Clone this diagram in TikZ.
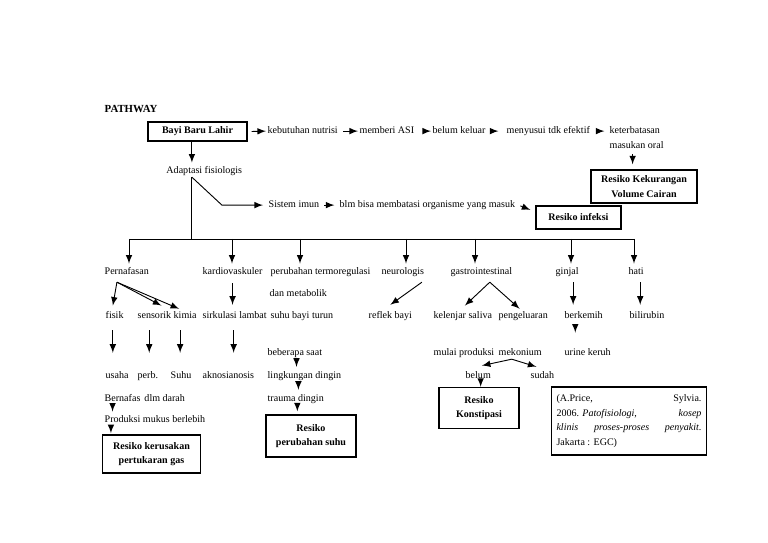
\documentclass[tikz,border=0pt]{standalone}
\usepackage{fontspec}
\setmainfont{Liberation Serif}
\usetikzlibrary{calc, arrows, decorations.markings}
\tikzstyle{Arrow} = [
%Create custom arrow style:
line width=0.65pt,
decoration={
markings,
mark=at position 1 with {
\arrow[line width=1.1pt]{latex}
}
},
shorten >= 2.5pt, preaction = {decorate}
]

\begin{document}
\begin{tikzpicture}[
				font = \fontsize{7.15}{10.3}\selectfont,
				txt/.style = {anchor = base west, inner sep = 1pt, text height = 1.7mm, text depth = 0.5mm},
				risk/.style = {rectangle, draw, line width = 0.9pt, align = center, inner sep = 1pt, font = \fontsize{7.15}{10.3}\selectfont\bfseries},
				ref/.style = {rectangle, draw, line width = 0.8pt, align = justify, text width = 3.625cm, inner xsep = 0.125cm, minimum height = 1.7cm},
			]

			\useasboundingbox (0,0) rectangle (19.2,-13.575);

			\node[anchor = base west, inner sep = 1pt, font = \fontsize{7.7}{9}\selectfont\bfseries] (Title) at (2.575,-2.8125) {PATHWAY};

			\node[risk, minimum width = 2.475cm, minimum height = 0.475cm] (Bayi) at (4.9375,-3.2875) {Bayi Baru Lahir};
			\node[txt] (Nutrisi) at (6.65,-3.3375) {kebutuhan nutrisi};
			\node[txt] (ASI) at (8.95,-3.3375) {memberi ASI};
			\node[txt] (Keluar) at (10.775,-3.3375) {belum keluar};
			\node[txt] (Menyusui) at (12.625,-3.3375) {menyusui tdk efektif};
			\node[anchor = north west, align = left, inner sep = 1pt] (Oral) at (15.2,-3.13) {keterbatasan\\masukan oral};
			\node[risk, minimum width = 2.65cm, minimum height = 0.825cm] (RVC) at (16.1,-4.6625) {Resiko Kekurangan\\Volume Cairan};

			\node[txt] (Adaptasi) at (4.12,-4.3375) {Adaptasi fisiologis};
			\node[txt] (Imun) at (6.675,-5.1875) {Sistem imun};
			\node[txt] (Batas) at (8.45,-5.1875) {blm bisa membatasi organisme yang masuk};
			\node[risk, minimum width = 2.125cm, minimum height = 0.575cm] (RI) at (14.4625,-5.4375) {Resiko infeksi};

			\node[txt] (Napas) at (2.575,-6.8625) {Pernafasan};
			\node[txt] (Kardio) at (5.025,-6.8625) {kardiovaskuler};
			\node[txt] (Termo) at (6.725,-6.8625) {perubahan termoregulasi};
			\node[txt] (Neuro) at (9.5,-6.8625) {neurologis};
			\node[txt] (Gastro) at (11.225,-6.8625) {gastrointestinal};
			\node[txt] (Ginjal) at (13.85,-6.8625) {ginjal};
			\node[txt] (Hati) at (15.675,-6.8625) {hati};
			\node[txt] (Metab) at (6.7,-7.4125) {dan metabolik};

			\node[txt] (Fisik) at (2.6,-7.9625) {fisik};
			\node[txt] (Sensorik) at (3.4,-7.9625) {sensorik};
			\node[txt] (Kimia) at (4.3,-7.9625) {kimia};
			\node[txt] (Sirk) at (5.025,-7.9625) {sirkulasi lambat};
			\node[txt] (SuhuT) at (6.725,-7.9625) {suhu bayi turun};
			\node[txt] (Reflek) at (9.175,-7.9625) {reflek bayi};
			\node[txt] (Saliva) at (10.8,-7.9625) {kelenjar saliva};
			\node[txt] (Keluaran) at (12.425,-7.9625) {pengeluaran};
			\node[txt] (Kemih) at (14.075,-7.9625) {berkemih};
			\node[txt] (Bili) at (15.7,-7.9625) {bilirubin};

			\node[txt] (Saat) at (6.65,-8.8875) {beberapa saat};
			\node[txt] (Mulai) at (10.8,-8.8875) {mulai produksi};
			\node[txt] (Mekon) at (12.425,-8.8875) {mekonium};
			\node[txt] (Urine) at (14.075,-8.8875) {urine keruh};

			\node[txt] (Usaha) at (2.6,-9.4625) {usaha};
			\node[txt] (Perb) at (3.4,-9.4625) {perb.};
			\node[txt] (Suhu) at (4.225,-9.4625) {Suhu};
			\node[txt] (Akno) at (5.025,-9.4625) {aknosianosis};
			\node[txt] (Dingin) at (6.65,-9.4625) {lingkungan dingin};
			\node[txt] (Belum) at (11.6,-9.4625) {belum};
			\node[txt] (Sudah) at (13.225,-9.4625) {sudah};

			\node[txt] (Bernafas) at (2.575,-10.0375) {Bernafas};
			\node[txt] (Darah) at (3.57,-10.0375) {dlm darah};
			\node[txt] (Trauma) at (6.65,-10.0375) {trauma dingin};
			\node[txt] (Mukus) at (2.575,-10.5625) {Produksi mukus berlebih};

			\node[risk, minimum width = 2.45cm, minimum height = 0.95cm] (RKPG) at (3.7875,-11.35) {Resiko kerusakan\\pertukaran gas};
			\node[risk, minimum width = 2.25cm, minimum height = 1.05cm] (RPS) at (7.775,-10.9) {Resiko\\perubahan suhu};
			\node[risk, minimum width = 2cm, minimum height = 1.025cm] (RK) at (11.975,-10.2) {Resiko\\Konstipasi};
			\node[ref] (Ref) at (15.725,-10.525) {(A.Price, \hfill Sylvia.\linebreak 2006. \textit{Patofisiologi}, \hfill \textit{kosep}\linebreak \textit{klinis proses-proses penyakit}.\linebreak Jakarta : EGC)};

			\draw[Arrow] ($(Bayi.east)+(0.1,0)$) -- (Nutrisi.west);
			\foreach \a/\b/\s/\e in {Nutrisi/ASI/0.09/0, ASI/Keluar/0.19/0, Keluar/Menyusui/0.09/-0.165, Menyusui/Oral/0.14/-0.09}
				\draw[Arrow] ($(\a.east)+(\s,0)$) -- ($(\a.east -| \b.west)+(\e,0)$);

			\coordinate (AX) at ($(Bayi.south)+(-0.14,0)$);
			\coordinate (AV) at (AX |- Adaptasi.south);
			\coordinate (BusL) at (3.225,-5.975);
			\coordinate (BusR) at (15.85,-5.975);
			\draw[Arrow] (AX) -- ($(AX |- Adaptasi.north)+(0,0.06)$);
			\draw[line width = 0.65pt] (AV) -- (AV |- BusL);
			\draw[line width = 0.65pt] (BusL) -- (BusR);
			\draw[Arrow] (AV) -- ($(AV |- Imun.west)+(0.75,0)$) -- ($(Imun.west)+(-0.1,0)$);
			\draw[Arrow] ($(Imun.east)+(0.08,0)$) -- ($(Batas.west)+(-0.09,0)$);
			\draw[Arrow] ($(Batas.east)+(0.09,-0.02)$) -- ($(RI.west)+(-0.125,0.19)$);

			\foreach \x/\n in {3.225/Napas, 5.8/Kardio, 7.5/Termo, 10.15/Neuro, 11.875/Gastro, 14.275/Ginjal, 15.85/Hati}{
				\coordinate (D) at (\x,-5.975);
				\draw[Arrow] (D) -- ($(D |- \n.north)+(0,0.06)$);
			}

			\coordinate (PF) at ($(Napas.south)+(-0.245,-0.1)$);
			\foreach \n/\dx/\dy in {Fisik/-0.045/0.11, Sensorik/0.175/0.11, Kimia/-0.15/0.03}
				\draw[Arrow] (PF) -- ($(\n.north)+(\dx,\dy)$);
			\draw[Arrow] ($(Neuro.south)+(0.475,-0.1)$) -- ($(Reflek.north)+(0,0.13)$);
			\coordinate (GF) at ($(Gastro.south)+(0.21,-0.1)$);
			\draw[Arrow] (GF) -- ($(Saliva.north)+(0.05,0.11)$);
			\draw[Arrow] (GF) -- ($(Keluaran.north)+(-0.09,0.03)$);
			\coordinate (MF) at ($(Mekon.south)+(-0.21,0)$);
			\draw[Arrow] (MF) -- ($(Belum.north)+(0.09,0.11)$);
			\draw[Arrow] (MF) -- ($(Sudah.north)+(-0.15,0.08)$);

			\foreach \a/\b/\dx/\sy/\ey in {Oral/RVC/-0.1/-0.1/0.125, Kardio/Sirk/0/-0.13/0.13, Ginjal/Kemih/0.15/-0.1/0.13, Hati/Bili/0.1/-0.1/0.13, Kemih/Urine/-0.21/-0.125/0.36, Fisik/Usaha/-0.045/-0.2/0.43, Sensorik/Perb/-0.13/-0.2/0.43, Kimia/Suhu/-0.125/-0.2/0.43, Sirk/Akno/-0.025/-0.2/0.43, Saat/Dingin/0.04/0.03/0.08, Dingin/Trauma/-0.15/0/0.08, Trauma/RPS/0.04/0/0.075, Bernafas/Mukus/-0.25/0/0.06, Mukus/RKPG/-1.1/0/0.03, Belum/RK/0.06/0.09/0}{
				\coordinate (S) at ($(\a.south)+(\dx,\sy)$);
				\draw[Arrow] (S) -- ($(S |- \b.north)+(0,\ey)$);
			}

		\end{tikzpicture}
\end{document}
